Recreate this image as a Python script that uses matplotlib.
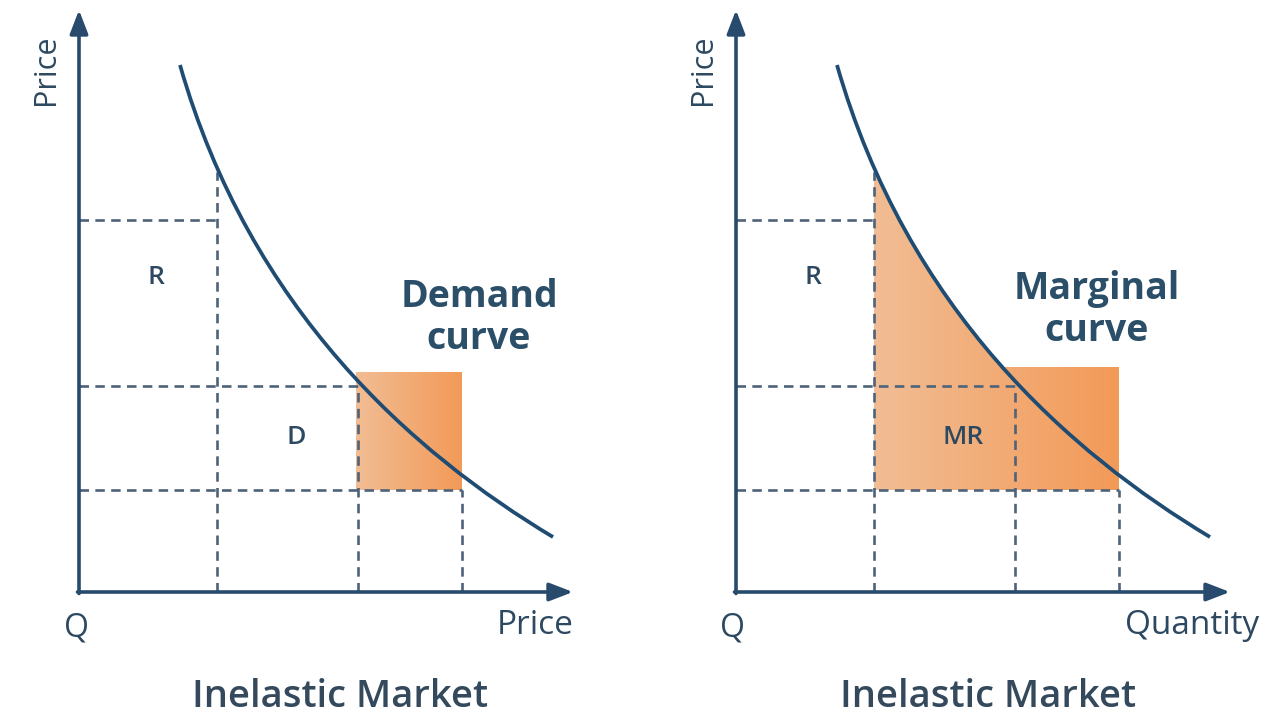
import numpy as np
import matplotlib.pyplot as plt
from matplotlib.colors import LinearSegmentedColormap
from matplotlib.path import Path
from matplotlib.patches import PathPatch

plt.rcParams['font.family'] = ['Open Sans', 'DejaVu Sans']

# demand curve as a cubic bezier (quantity, price),
# same curve in both panels
curve_q = [101, 171, 334, 474]
curve_p = [527, 282, 139, 55]

quantities = [138, 279, 383]   # dashed verticals
prices = [372, 206, 102]       # dashed horizontals
curve_at_q1 = 420
box_left = 277
box_top = [220, 225]           # top of the orange block, left / right panel

x_labels = ['Price', 'Quantity']
curve_labels = ['Demand\ncurve', 'Marginal\ncurve']
area_labels = [['R', 'D'], ['R', 'MR']]
title = 'Inelastic Market'

axis_col = '#284b6d'
curve_col = '#1f4c73'
text_col = '#2d4961'
dash_col = '#4e6379'
grad = LinearSegmentedColormap.from_list('orange', ['#f1bd94', '#f39a58'])

fig = plt.figure(figsize=(12.8, 7.2), dpi=100)
ax1 = fig.add_axes([0, 0, 0.5, 1])
ax2 = fig.add_axes([0.5, 0, 0.5, 1])
ax1.set_xlim(-79, 561)
ax2.set_xlim(-96, 544)

ctrl = np.column_stack([curve_q, curve_p])
codes = [Path.MOVETO, Path.CURVE4, Path.CURVE4, Path.CURVE4]
curve_path = Path(ctrl, codes)
# region under the curve (used to clip the orange fill in the right panel)
under_path = Path(np.vstack([ctrl, [[curve_q[-1], -50], [curve_q[0], -50], [curve_q[0], curve_p[0]]]]),
                  codes + [Path.LINETO, Path.LINETO, Path.CLOSEPOLY])


def gradient(ax, extent, clip):
    im = ax.imshow(np.linspace(0, 1, 256).reshape(1, -1), cmap=grad, aspect='auto',
                   extent=extent, zorder=1, interpolation='bilinear')
    im.set_clip_path(clip, transform=ax.transData)


for i, ax in enumerate([ax1, ax2]):
    ax.set_ylim(-128, 592)
    ax.axis('off')

    # orange block
    if i == 0:
        left = box_left
        rect = Path([(left, prices[2]), (quantities[2], prices[2]), (quantities[2], box_top[0]),
                     (left, box_top[0]), (left, prices[2])], closed=True)
        gradient(ax, [left, quantities[2], prices[2], box_top[0]], rect)
    else:
        left = quantities[0]
        rect = Path([(left, prices[2]), (quantities[2], prices[2]), (quantities[2], box_top[1]),
                     (left, box_top[1]), (left, prices[2])], closed=True)
        ext = [left, quantities[2], prices[2], curve_at_q1]
        gradient(ax, ext, rect)
        gradient(ax, ext, under_path)
    ax.set_xlim(ax.get_xlim())

    # dashed guide lines
    dash = dict(color=dash_col, lw=1.9, dashes=(3.6, 2.4), zorder=2)
    ax.plot([quantities[0], quantities[0]], [0, curve_at_q1], **dash)
    ax.plot([quantities[1], quantities[1]], [0, prices[1]], **dash)
    ax.plot([quantities[2], quantities[2]], [0, prices[2]], **dash)
    ax.plot([0, quantities[0]], [prices[0], prices[0]], **dash)
    ax.plot([0, quantities[1]], [prices[1], prices[1]], **dash)
    ax.plot([0, quantities[2]], [prices[2], prices[2]], **dash)

    # curve
    ax.add_patch(PathPatch(curve_path, fill=False, edgecolor=curve_col, lw=2.7,
                           capstyle='butt', zorder=4))

    # axes with arrows
    arrow = dict(arrowstyle='-|>,head_length=1.3,head_width=0.5', color=axis_col,
                 lw=2.6, shrinkA=0, shrinkB=0, mutation_scale=11)
    ax.annotate('', xy=(0, 582), xytext=(0, -1.5), arrowprops=arrow, zorder=5)
    ax.annotate('', xy=(494, 0), xytext=(-1.5, 0), arrowprops=arrow, zorder=5)

    # labels
    ax.text(-33, 522, 'Price', rotation=90, ha='center', va='center',
            fontsize=22, color=text_col)
    ax.text(-3, -36, 'Q', ha='center', va='center', fontsize=23, color=text_col)
    ax.text(456, -34, x_labels[i], ha='center', va='center', fontsize=24,
            color=text_col)
    ax.text(77, 314, area_labels[i][0], ha='center', va='center', fontsize=19,
            color=text_col, fontweight='semibold')
    ax.text([217, 227][i], 155, area_labels[i][1], ha='center', va='center',
            fontsize=19, color=text_col, fontweight='semibold')
    ax.text([400, 361][i], [274, 282][i], curve_labels[i], ha='center', va='center',
            fontsize=27, color='#2b4f68', fontweight='bold', linespacing=1.12)
    ax.text([261, 252][i], -105, title, ha='center', va='center', fontsize=27.5,
            color='#34495c', fontweight='semibold')

fig.savefig('out.png', dpi=100, facecolor='white')
